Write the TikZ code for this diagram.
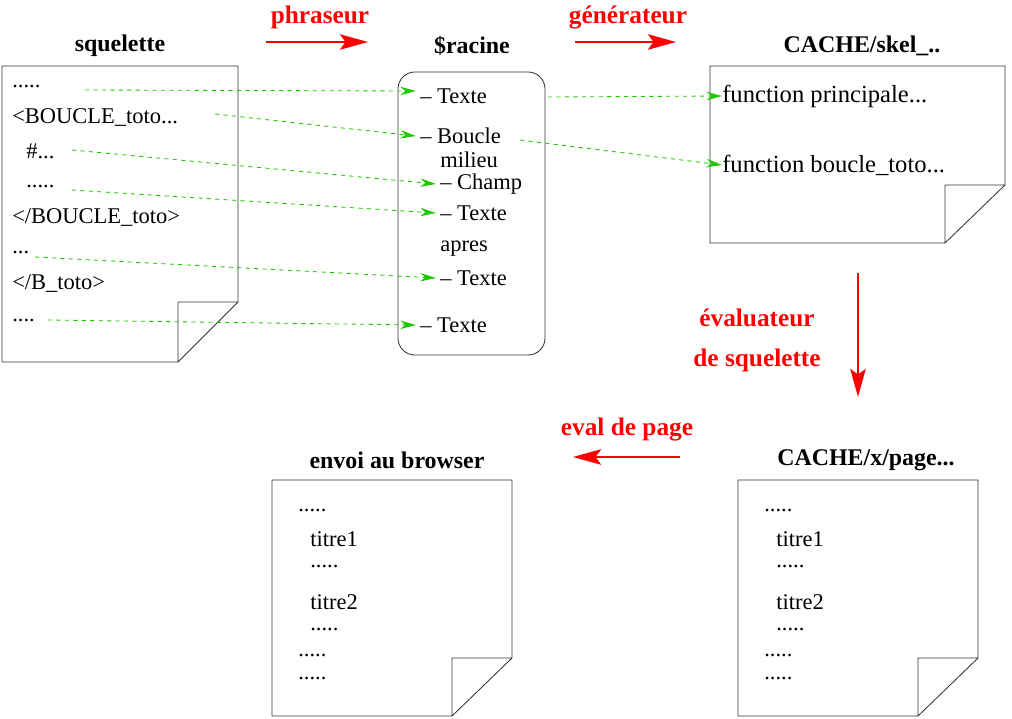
\documentclass[tikz,border=0pt]{standalone}
\usepackage{fontspec}
\setmainfont{Liberation Serif}
\usetikzlibrary{arrows.meta}
\begin{document}
\begin{tikzpicture}[x=0.025cm,y=-0.025cm,
 txt/.style={anchor=west,font=\fontsize{16}{18}\selectfont,inner sep=0pt},
 ttl/.style={font=\bfseries\fontsize{17}{19}\selectfont,inner sep=0pt},
 lbl/.style={font=\bfseries\fontsize{18}{20}\selectfont,text=red,inner sep=0pt},
 gr/.style={draw={rgb,255:red,30;green,200;blue,0},dashed,line width=0.6pt,-{Stealth[length=11pt,width=6pt]}},
 rd/.style={draw=red,line width=1.4pt,-{Stealth[length=20pt,width=11pt,inset=4pt]}},
 doc/.style={draw=black!80,line width=0.6pt}]
\useasboundingbox (0,0) rectangle (1012,718);
% docs
\draw[doc] (2,66) -- (238,66) -- (238,302) -- (178,362) -- (2,362) -- cycle (178,362) -- (178,302) -- (238,302);
\draw[doc] (710,66) -- (1005,66) -- (1005,185) -- (945,243) -- (710,243) -- cycle (945,243) -- (945,185) -- (1005,185);
\draw[doc] (272,480) -- (512,480) -- (512,658) -- (452,716) -- (272,716) -- cycle (452,716) -- (452,658) -- (512,658);
\draw[doc] (738,480) -- (978,480) -- (978,658) -- (918,716) -- (738,716) -- cycle (918,716) -- (918,658) -- (978,658);
\draw[doc,rounded corners=12pt] (398,72) rectangle (545,355);
% titles
\node[ttl] (t1) at (120,46) {squelette};
\node[ttl] (t2) at (472,46) {\$racine};
\node[ttl] (t3) at (862,46) {CACHE/skel\_..};
\node[ttl] (t4) at (397,460) {envoi au browser};
\node[ttl] (t5) at (866,460) {CACHE/x/page...};
% squelette text
\node[txt] (s1) at (12,86) {.....};
\node[txt] (s2) at (12,117) {<BOUCLE\_toto...};
\node[txt] (s3) at (26,151) {\#...};
\node[txt] (s4) at (26,186) {.....};
\node[txt] (s5) at (12,217) {</BOUCLE\_toto>};
\node[txt] (s6) at (12,252) {...};
\node[txt] (s7) at (12,284) {</B\_toto>};
\node[txt] (s8) at (12,320) {....};
% racine text
\node[txt] (r1) at (420,96) {– Texte};
\node[txt] (r2) at (420,136) {– Boucle};
\node[txt] (r3) at (440,160) {milieu};
\node[txt] (r4) at (440,184) {– Champ};
\node[txt] (r5) at (440,213) {– Texte};
\node[txt] (r6) at (440,249) {apres};
\node[txt] (r7) at (440,278) {– Texte};
\node[txt] (r8) at (420,325) {– Texte};
% cache
\node[txt,font=\fontsize{17.5}{19}\selectfont] (c1) at (722,96) {function principale...};
\node[txt,font=\fontsize{17.5}{19}\selectfont] (c2) at (722,165) {function boucle\_toto...};
% bottom docs
\foreach \dx/\p in {0/a,466/b}{
 \node[txt] (\p1) at (298+\dx,510) {.....};
 \node[txt] (\p2) at (310+\dx,539) {titre1};
 \node[txt] (\p3) at (310+\dx,566) {.....};
 \node[txt] (\p4) at (310+\dx,602) {titre2};
 \node[txt] (\p5) at (310+\dx,629) {.....};
 \node[txt] (\p6) at (298+\dx,655) {.....};
 \node[txt] (\p7) at (298+\dx,678) {.....};
}
% green arrows
\coordinate (g1) at (85,90); \coordinate (g2) at (215,114); \coordinate (g3) at (72,150);
\coordinate (g4) at (72,190); \coordinate (g5) at (35,257); \coordinate (g6) at (48,320);
\draw[gr] (g1) -- ([xshift=-3pt]r1.west|-0,91);
\draw[gr] (g2) -- ([xshift=-3pt]r2.west);
\draw[gr] (g3) -- ([xshift=-3pt]r4.west);
\draw[gr] (g4) -- ([xshift=-3pt]r5.west);
\draw[gr] (g5) -- ([xshift=-3pt]r7.west);
\draw[gr] (g6) -- ([xshift=-3pt]r8.west);
\coordinate (g7) at (548,97); \coordinate (g8) at (520,140);
\draw[gr] (g7) -- (c1.west);
\draw[gr] (g8) -- (c2.west);
% red arrows
\node[lbl] (l1) at (320,17) {phraseur};
\node[lbl] (l2) at (628,17) {générateur};
\node[lbl] (l3) at (757,318) {évaluateur};
\node[lbl] (l4) at (757,360) {de squelette};
\node[lbl] (l5) at (627,430) {eval de page};
\coordinate (a1) at (266,42); \coordinate (a2) at (368,42);
\coordinate (a3) at (575,42); \coordinate (a4) at (676,42);
\coordinate (a5) at (858,273); \coordinate (a6) at (858,397);
\coordinate (a7) at (680,457); \coordinate (a8) at (573,457);
\draw[rd] (a1) -- (a2);
\draw[rd] (a3) -- (a4);
\draw[rd] (a5) -- (a6);
\draw[rd] (a7) -- (a8);
\end{tikzpicture}
\end{document}
